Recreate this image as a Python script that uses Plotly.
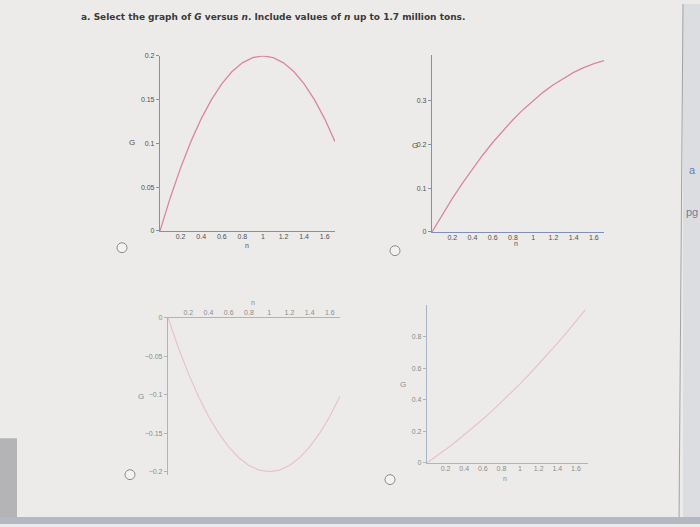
import plotly.graph_objects as go

W, H = 700, 527

# n values (million tons)
n = [0, 0.1, 0.2, 0.3, 0.4, 0.5, 0.6, 0.7, 0.8, 0.9, 1.0,
     1.1, 1.2, 1.3, 1.4, 1.5, 1.6, 1.7]

# top left: rises to 0.2 at n=1, falls back to ~0.1
g_a = [0, 0.038, 0.072, 0.102, 0.128, 0.150, 0.168, 0.182, 0.192, 0.198, 0.200,
       0.198, 0.192, 0.182, 0.168, 0.150, 0.128, 0.102]
# top right: concave, ~0.39 at the end
g_b = [0, 0.039, 0.076, 0.111, 0.144, 0.175, 0.204, 0.231, 0.256, 0.279, 0.300,
       0.319, 0.336, 0.351, 0.364, 0.375, 0.384, 0.391]
# bottom left: dips to -0.2 at n=1
g_c = [0, -0.038, -0.072, -0.102, -0.128, -0.150, -0.168, -0.182, -0.192, -0.198, -0.200,
       -0.198, -0.192, -0.182, -0.168, -0.150, -0.128, -0.102]
# bottom right: convex, ~0.97 at the end
g_d = [0, 0.041, 0.084, 0.129, 0.176, 0.225, 0.276, 0.329, 0.384, 0.441, 0.500,
       0.561, 0.624, 0.689, 0.756, 0.825, 0.896, 0.969]

n_ticks = [0.2, 0.4, 0.6, 0.8, 1, 1.2, 1.4, 1.6]
n_labels = ["0.2", "0.4", "0.6", "0.8", "1", "1.2", "1.4", "1.6"]
ya_ticks = [0, 0.05, 0.1, 0.15, 0.2]
yb_ticks = [0, 0.1, 0.2, 0.3]
yc_ticks = [0, -0.05, -0.1, -0.15, -0.2]
yd_ticks = [0, 0.2, 0.4, 0.6, 0.8]


def px(x, y):
    return x / W, 1 - y / H


def dom_x(a, b):
    return [a / W, b / W]


def dom_y(bottom, top):
    return [1 - bottom / H, 1 - top / H]


dark = dict(curve="#d9879e", axis="#7f90b2", text="#505050")
faded = dict(curve="#e9c3c9", axis="#aab4c8", text="#8c8c8c")

fig = go.Figure()
fig.add_trace(go.Scatter(x=n, y=g_a, mode="lines", line=dict(color=dark["curve"], width=1.3),
                         xaxis="x", yaxis="y"))
fig.add_trace(go.Scatter(x=n, y=g_b, mode="lines", line=dict(color=dark["curve"], width=1.3),
                         xaxis="x2", yaxis="y2"))
fig.add_trace(go.Scatter(x=n, y=g_c, mode="lines", line=dict(color=faded["curve"], width=1.2),
                         xaxis="x3", yaxis="y3"))
fig.add_trace(go.Scatter(x=n, y=g_d, mode="lines", line=dict(color=faded["curve"], width=1.2),
                         xaxis="x4", yaxis="y4"))


def xax(domain, anchor, rng, st, side="bottom"):
    return dict(domain=domain, anchor=anchor, range=rng, side=side,
                tickvals=n_ticks, ticktext=n_labels, showgrid=False, zeroline=False,
                showline=True, linecolor=st["axis"], linewidth=1.2,
                ticks="", ticklabelstandoff=-1,
                tickfont=dict(family="Liberation Sans", size=7, color=st["text"]))


def yax(domain, anchor, rng, ticks, st):
    return dict(domain=domain, anchor=anchor, range=rng, tickvals=ticks,
                showgrid=False, zeroline=False, showline=True, linecolor=st["axis"],
                linewidth=1.2, ticks="outside", ticklen=3, tickcolor=st["axis"],
                tickfont=dict(family="Liberation Sans", size=7, color=st["text"]))


fig.update_layout(
    width=W, height=H, margin=dict(l=0, r=0, t=0, b=0),
    paper_bgcolor="#ecebe9", plot_bgcolor="rgba(0,0,0,0)", showlegend=False,
    xaxis=xax(dom_x(160, 335), "y", [0, 1.7], dark),
    yaxis=yax(dom_y(230, 52.5), "x", [0, 0.2], ya_ticks, dark),
    xaxis2=xax(dom_x(432, 604), "y2", [0, 1.7], dark),
    yaxis2=yax(dom_y(231, 52), "x2", [0, 0.403], yb_ticks, dark),
    xaxis3=xax(dom_x(168, 340), "y3", [0, 1.7], faded, side="top"),
    yaxis3=yax(dom_y(477, 318), "x3", [-0.204, 0], yc_ticks, faded),
    xaxis4=xax(dom_x(427, 588), "y4", [0, 1.73], faded),
    yaxis4=yax(dom_y(465, 305), "x4", [0, 1.0], yd_ticks, faded),
)

notes = [
    ("<b>a. Select the graph of <i>G</i> versus <i>n</i>. Include values of <i>n</i> up to 1.7 million tons.</b>",
     80, 13, "left", 9, "#3a3a3a", "DejaVu Sans"),
    ("G", 132, 140, "center", 8, dark["text"], "Liberation Sans"),
    ("G", 415, 143, "center", 8, dark["text"], "Liberation Sans"),
    ("G", 141, 398, "center", 8, faded["text"], "Liberation Sans"),
    ("G", 403, 386, "center", 8, faded["text"], "Liberation Sans"),
    ("n", 247, 245, "center", 7, dark["text"], "Liberation Sans"),
    ("n", 516, 243, "center", 7, dark["text"], "Liberation Sans"),
    ("n", 253, 303, "center", 7, faded["text"], "Liberation Sans"),
    ("n", 505, 481, "center", 7, faded["text"], "Liberation Sans"),
    ("a", 692, 168, "center", 11, "#5d7fc0", "Liberation Sans"),
    ("pg", 692, 211, "center", 11, "#6f7f99", "Liberation Sans"),
]
for text, x, y, align, size, color, family in notes:
    ax, ay = px(x, y)
    fig.add_annotation(text=text, x=ax, y=ay, xref="paper", yref="paper",
                       xanchor=align, yanchor="middle", showarrow=False, borderpad=0,
                       font=dict(family=family, size=size, color=color))

# radio buttons
for cx, cy in [(122, 247), (395, 250), (130, 477), (390, 482)]:
    x0, y0 = px(cx - 5, cy + 5)
    x1, y1 = px(cx + 5, cy - 5)
    fig.add_shape(type="circle", xref="paper", yref="paper", x0=x0, y0=y0, x1=x1, y1=y1,
                  line=dict(color="#8a8a8a", width=1), fillcolor="#f2f2f2")

# photo edges: right page edge, bottom bar, grey left corner
x0, _ = px(683, 0)
fig.add_shape(type="rect", xref="paper", yref="paper", x0=x0, x1=1, y0=0, y1=1,
              line=dict(width=0), fillcolor="#dcdde0", layer="below")
fig.add_shape(type="line", xref="paper", yref="paper", x0=x0, x1=x0 - 4 / W, y0=1, y1=0,
              line=dict(color="#a0a0a8", width=1))
_, yb = px(0, 520)
fig.add_shape(type="rect", xref="paper", yref="paper", x0=0, x1=1, y0=0, y1=yb,
              line=dict(width=0), fillcolor="#b3b8c2")
xl, yl = px(17, 440)
fig.add_shape(type="rect", xref="paper", yref="paper", x0=0, x1=xl, y0=0, y1=yl,
              line=dict(width=0), fillcolor="#b4b4b6", layer="below")

fig.write_html("out.html", config={"displayModeBar": False},
               post_script="document.body.style.margin='0px';")
